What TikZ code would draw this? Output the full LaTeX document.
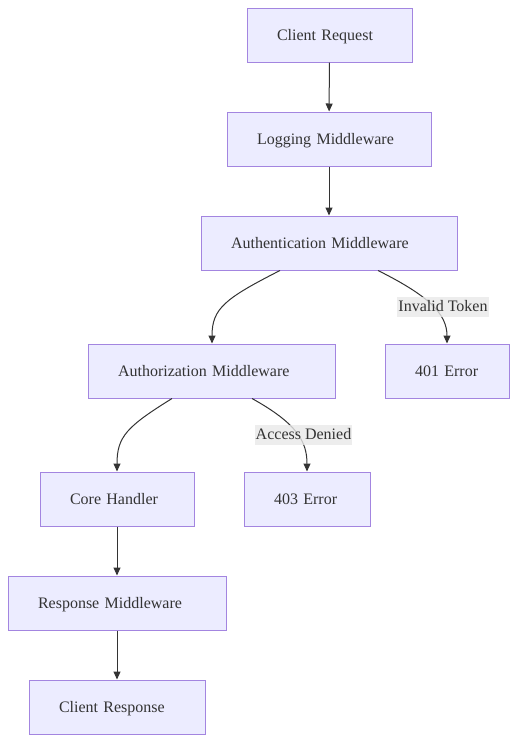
\documentclass[tikz,border=0pt]{standalone}
\usepackage{fontspec}
\setmainfont{Liberation Serif}
\usetikzlibrary{arrows.meta}
\definecolor{nodefill}{HTML}{ECECFF}
\definecolor{nodeline}{HTML}{9370DB}
\definecolor{edgecol}{HTML}{333333}
\definecolor{lblfill}{HTML}{E8E8E8}
\begin{document}
\begin{tikzpicture}[x=1pt,y=-1pt,
  box/.style={draw=nodeline!85,fill=nodefill,line width=1pt,inner xsep=30pt,inner ysep=0pt,
    minimum height=54pt,align=left,text=edgecol,text height=14pt,text depth=3pt,font=\fontsize{16}{19}\selectfont},
  lbl/.style={fill=lblfill,fill opacity=0.8,text opacity=1,text=edgecol,inner xsep=1pt,inner ysep=2pt,
    text height=13pt,text depth=3pt,font=\fontsize{16}{19}\selectfont},
  edge/.style={draw=edgecol,line width=1pt,-{Triangle[length=8pt,width=7pt]}}]
\useasboundingbox (0,0) rectangle (517,742);
\node[box,text width=105pt] (req) at (329.5,35) {Client Request};
\node[box,text width=144pt] (log) at (329,139) {Logging Middleware};
\node[box,text width=196pt] (authn) at (329,243) {Authentication Middleware};
\node[box,text width=187pt] (authz) at (211.5,371) {Authorization Middleware};
\node[box,text width=64pt] (e401) at (447,371) {401 Error};
\node[box,text width=94pt] (core) at (117,499) {Core Handler};
\node[box,text width=66pt] (e403) at (307,499) {403 Error};
\node[box,text width=158pt] (resp) at (117,603) {Response Middleware};
\node[box,text width=116pt] (cresp) at (117,707) {Client Response};
\draw[edge] (req) -- (log);
\draw[edge] (log) -- (authn);
\draw[edge] ([xshift=-49pt]authn.south) .. controls +(-55,28) and +(0,-35) .. ([xshift=0.5pt]authz.north);
\draw[edge] ([xshift=49pt]authn.south) .. controls +(50,25) and +(0,-30) .. (e401.north);
\draw[edge] ([xshift=-39.5pt]authz.south) .. controls +(-45,28) and +(0,-35) .. ([xshift=-0pt]core.north);
\draw[edge] ([xshift=40.5pt]authz.south) .. controls +(45,25) and +(0,-30) .. (e403.north);
\draw[edge] (core) -- (resp);
\draw[edge] (resp) -- (cresp);
\node[lbl] (l401) at (443,306.5) {Invalid Token};
\node[lbl] (l403) at (303.5,434.5) {Access Denied};
\end{tikzpicture}
\end{document}
